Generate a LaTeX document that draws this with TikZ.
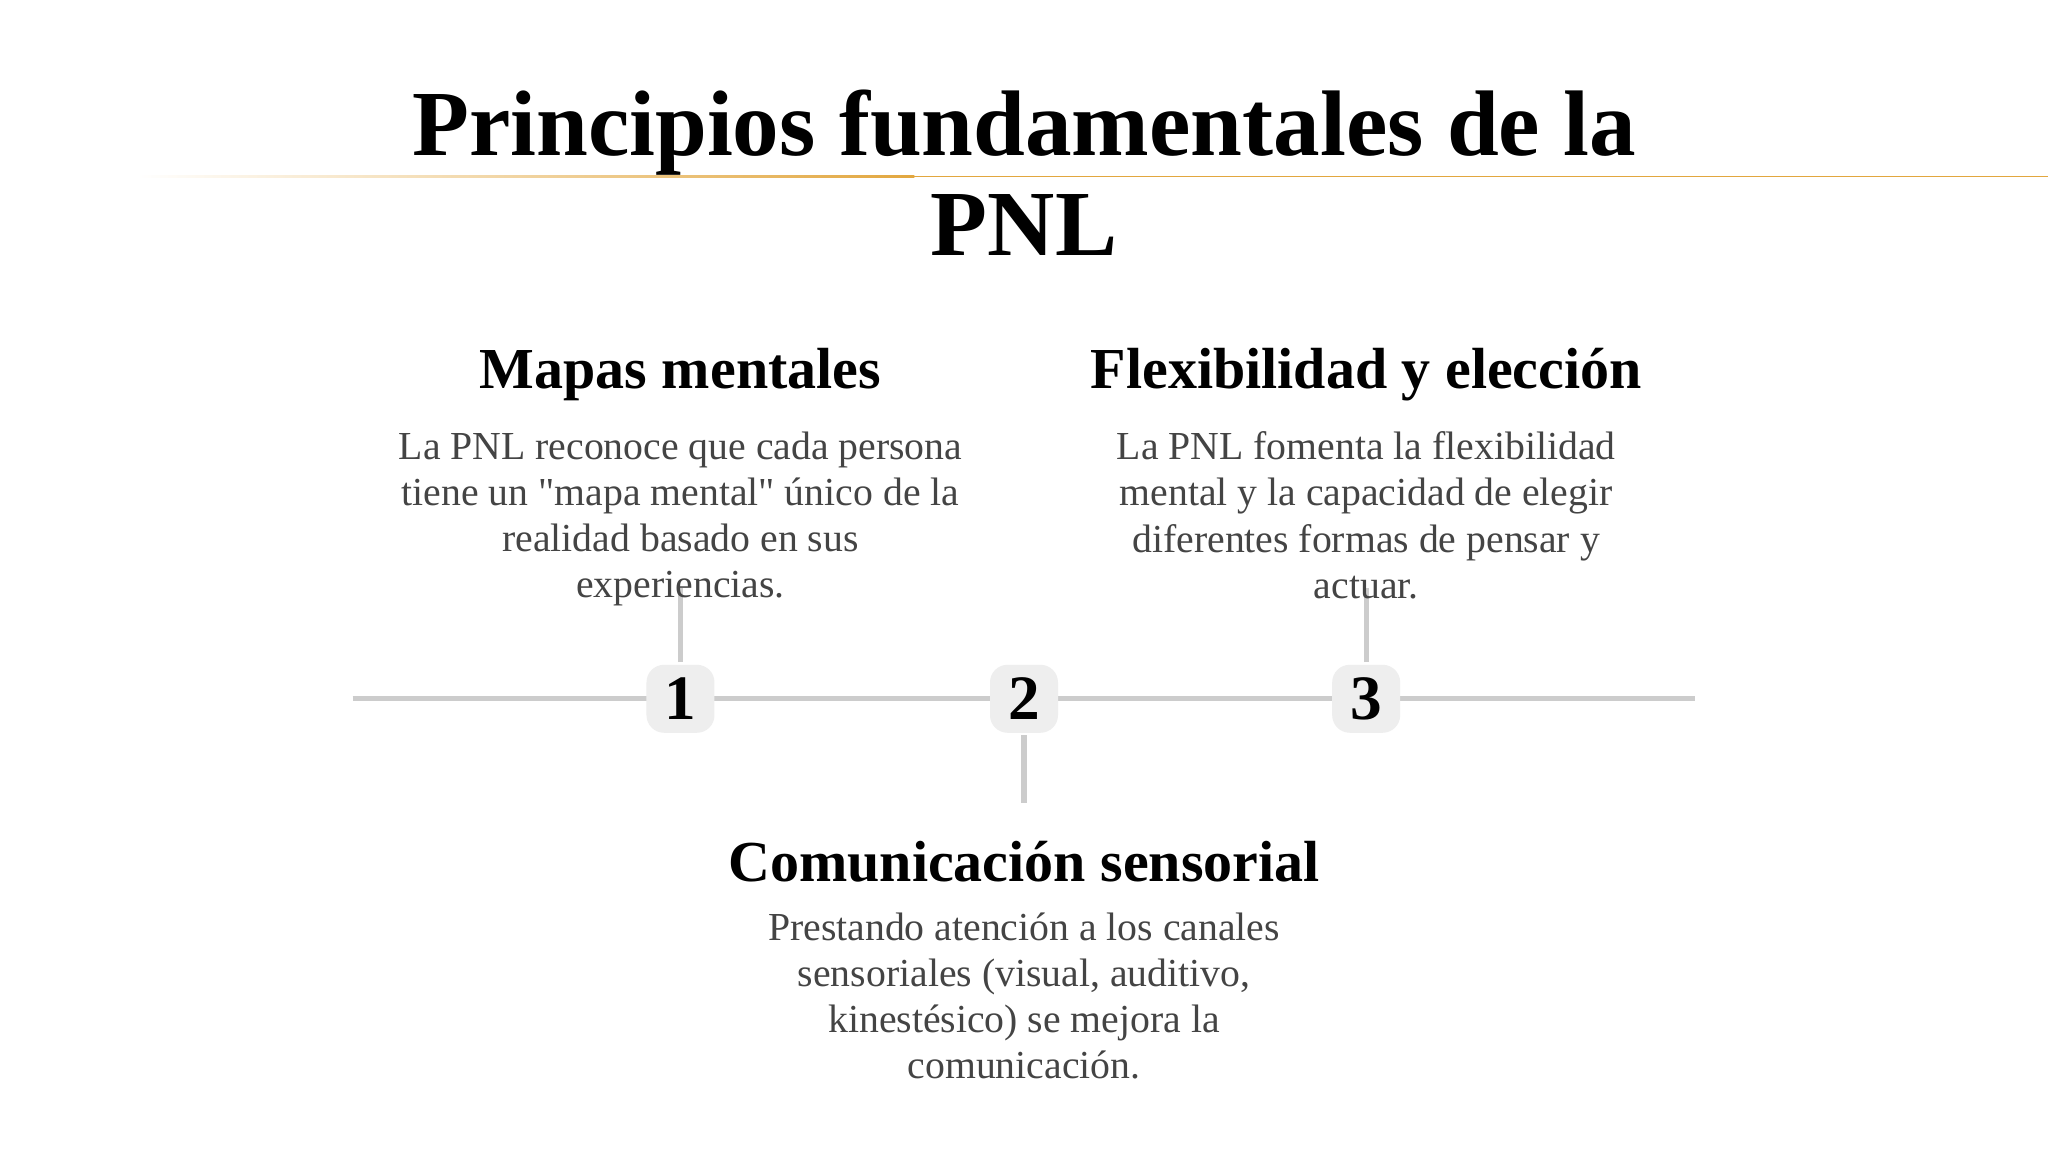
\documentclass[tikz,border=0pt]{standalone}
\usepackage{fontspec}
\setmainfont{Liberation Serif}
\usetikzlibrary{positioning}
\definecolor{linegray}{HTML}{CCCCCC}
\definecolor{boxgray}{HTML}{EEEEEE}
\definecolor{bodygray}{HTML}{444444}
\definecolor{gold}{HTML}{E2A73F}
\begin{document}
\begin{tikzpicture}[x=0.01306cm,y=-0.01306cm,
    num/.style = {minimum size=0.68cm, fill=boxgray, rounded corners=5pt, font=\bfseries\fontsize{18}{18}\selectfont},
    head/.style = {font=\bfseries\fontsize{16.5}{19}\selectfont, text=black},
    body/.style = {font=\fontsize{11.3}{13.1}\selectfont, text=bodygray, align=center},
    every path/.style = {line width=1.5pt}]
    \useasboundingbox[fill=white] (0,0) rectangle (1568,882);
    % title
    \shade[left color=white, right color=gold, line width=0pt] (105,134.4) rectangle (700,135.6);
    \fill[gold] (700,134.4) rectangle (1568,135.6);
    \node[font=\bfseries\fontsize{26.5}{28.5}\selectfont, align=center] (title) at (784,132) {Principios fundamentales de la\\PNL};
    % timeline
    \coordinate (start) at (270,535);
    \coordinate (end) at (1298,535);
    \coordinate (up1) at (521,450);
    \coordinate (up3) at (1046,450);
    \coordinate (down2) at (784,615);
    \draw[linegray] (start) -- (end);
    \node[num] (n1) at (521,535) {1};
    \node[num] (n2) at (784,535) {2};
    \node[num] (n3) at (1046,535) {3};
    \draw[linegray] (n1) -- (up1);
    \draw[linegray] (n3) -- (up3);
    \draw[linegray] (n2) -- (down2);
    % texts
    \node[head] (h1) at (521,287) {Mapas mentales};
    \node[body, below=0.02cm of h1] (b1) {La PNL reconoce que cada persona\\tiene un \textquotedbl mapa mental\textquotedbl{} único de la\\realidad basado en sus\\experiencias.};
    \node[head] (h3) at (1046,287) {Flexibilidad y elección};
    \node[body, below=0.02cm of h3] (b3) {La PNL fomenta la flexibilidad\\mental y la capacidad de elegir\\diferentes formas de pensar y\\actuar.};
    \node[head] (h2) at (784,660) {Comunicación sensorial};
    \node[body, below=0.02cm of h2] (b2) {Prestando atención a los canales\\sensoriales (visual, auditivo,\\kinestésico) se mejora la\\comunicación.};
\end{tikzpicture}
\end{document}
